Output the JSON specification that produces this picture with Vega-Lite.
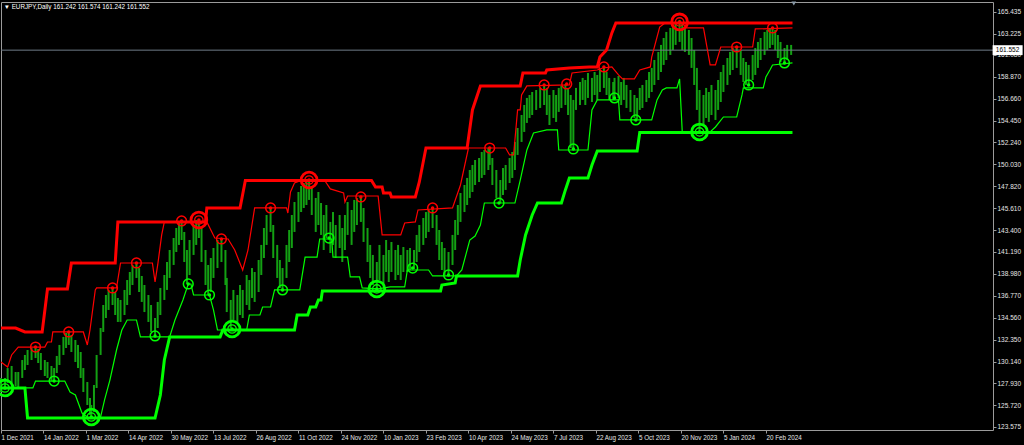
{
"$schema": "https://vega.github.io/schema/vega-lite/v6.json",
"width": 992, "height": 428,
"autosize": {"type": "none"},
"padding": {"left": 1, "top": 2, "right": 31, "bottom": 15},
"background": "#000000",
"config": {"view": {"stroke": "#9b9b9b", "strokeWidth": 1}, "font": "Liberation Sans",
  "axis": {"labelOverlap": false, "labelBound": false, "labelFlush": false, "labelFont": "Liberation Sans", "labelColor": "#e6e6e6", "tickColor": "#9b9b9b", "tickSize": 3, "labelPadding": 1, "domain": false, "grid": false, "title": null, "tickCount": 40}},
"resolve": {"scale": {"color": "independent", "strokeWidth": "independent"}},
"datasets": {
"price": [
{"b":0,"lo":127.06,"hi":128.48},{"b":3,"lo":127.35,"hi":128.48},{"b":5,"lo":127.97,"hi":129.48},{"b":8,"lo":127.97,"hi":129.69},{"b":11,"lo":127.67,"hi":129.08},{"b":13,"lo":127.47,"hi":129.08},{"b":16,"lo":128.48,"hi":130.29},{"b":18,"lo":129.28,"hi":130.80},{"b":20,"lo":129.79,"hi":131.30},{"b":23,"lo":130.29,"hi":131.50},
{"b":26,"lo":130.49,"hi":131.60},{"b":28,"lo":129.99,"hi":131.40},{"b":30,"lo":129.28,"hi":131.00},{"b":33,"lo":128.68,"hi":130.29},{"b":35,"lo":128.48,"hi":130.09},{"b":38,"lo":128.17,"hi":129.69},{"b":40,"lo":128.17,"hi":129.48},{"b":42,"lo":128.98,"hi":130.70},{"b":44,"lo":129.79,"hi":131.81},{"b":47,"lo":130.80,"hi":132.62},
{"b":49,"lo":131.50,"hi":133.02},{"b":51,"lo":131.81,"hi":133.12},{"b":53,"lo":131.10,"hi":132.82},{"b":56,"lo":130.09,"hi":132.31},{"b":58,"lo":129.48,"hi":131.81},{"b":60,"lo":128.48,"hi":131.10},{"b":62,"lo":127.06,"hi":129.48},{"b":65,"lo":125.75,"hi":128.07},{"b":67,"lo":124.74,"hi":126.46},{"b":68,"lo":124.44,"hi":125.75},
{"b":70,"lo":125.05,"hi":127.77},{"b":72,"lo":127.47,"hi":130.80},{"b":75,"lo":130.80,"hi":133.52},{"b":77,"lo":133.12,"hi":135.84},{"b":79,"lo":134.53,"hi":136.85},{"b":81,"lo":135.34,"hi":137.36},{"b":84,"lo":135.84,"hi":137.56},{"b":86,"lo":134.83,"hi":137.15},{"b":88,"lo":134.13,"hi":136.55},{"b":90,"lo":134.13,"hi":136.35},
{"b":93,"lo":134.83,"hi":137.36},{"b":95,"lo":135.84,"hi":138.36},{"b":97,"lo":136.85,"hi":139.17},{"b":99,"lo":137.86,"hi":139.88},{"b":102,"lo":138.57,"hi":140.08},{"b":104,"lo":137.15,"hi":139.57},{"b":106,"lo":136.15,"hi":138.77},{"b":108,"lo":135.13,"hi":137.86},{"b":111,"lo":134.13,"hi":136.85},{"b":113,"lo":133.12,"hi":135.84},
{"b":116,"lo":132.62,"hi":134.53},{"b":118,"lo":133.52,"hi":136.15},{"b":120,"lo":134.83,"hi":137.56},{"b":123,"lo":136.35,"hi":138.87},{"b":125,"lo":137.36,"hi":140.18},{"b":127,"lo":138.57,"hi":141.39},{"b":130,"lo":139.88,"hi":142.60},{"b":132,"lo":141.19,"hi":143.61},{"b":134,"lo":141.90,"hi":144.22},{"b":136,"lo":142.40,"hi":144.32},
{"b":138,"lo":140.18,"hi":143.21},{"b":140,"lo":137.96,"hi":141.39},{"b":142,"lo":138.87,"hi":142.40},{"b":145,"lo":140.89,"hi":143.91},{"b":147,"lo":141.90,"hi":144.42},{"b":149,"lo":142.60,"hi":144.52},{"b":151,"lo":140.18,"hi":143.61},{"b":154,"lo":137.86,"hi":141.39},{"b":156,"lo":136.85,"hi":139.88},{"b":158,"lo":137.15,"hi":140.58},
{"b":160,"lo":138.57,"hi":141.59},{"b":163,"lo":139.57,"hi":142.40},{"b":166,"lo":140.18,"hi":142.50},{"b":169,"lo":137.86,"hi":141.39},{"b":170,"lo":135.13,"hi":138.57},{"b":173,"lo":133.52,"hi":136.35},{"b":175,"lo":134.33,"hi":137.36},{"b":178,"lo":134.13,"hi":136.85},{"b":180,"lo":134.83,"hi":137.86},{"b":182,"lo":134.53,"hi":137.36},
{"b":185,"lo":135.84,"hi":138.87},{"b":187,"lo":135.34,"hi":138.36},{"b":189,"lo":136.55,"hi":139.57},{"b":191,"lo":136.15,"hi":139.17},{"b":194,"lo":137.15,"hi":140.38},{"b":196,"lo":138.87,"hi":141.90},{"b":198,"lo":140.58,"hi":143.61},{"b":200,"lo":141.90,"hi":144.92},{"b":203,"lo":143.21,"hi":145.63},{"b":205,"lo":140.58,"hi":143.91},
{"b":208,"lo":138.57,"hi":141.90},{"b":210,"lo":137.56,"hi":140.38},{"b":212,"lo":137.36,"hi":139.57},{"b":215,"lo":138.57,"hi":141.90},{"b":217,"lo":140.18,"hi":143.41},{"b":219,"lo":141.59,"hi":144.92},{"b":221,"lo":143.21,"hi":146.23},{"b":224,"lo":144.22,"hi":147.24},{"b":226,"lo":145.22,"hi":147.85},{"b":228,"lo":145.63,"hi":148.15},
{"b":230,"lo":145.93,"hi":148.35},{"b":232,"lo":146.44,"hi":148.55},{"b":234,"lo":144.92,"hi":147.85},{"b":237,"lo":143.21,"hi":146.64},{"b":239,"lo":143.91,"hi":147.24},{"b":241,"lo":142.91,"hi":146.13},{"b":243,"lo":141.39,"hi":144.92},{"b":245,"lo":142.60,"hi":145.93},{"b":248,"lo":141.09,"hi":144.22},{"b":250,"lo":141.90,"hi":145.22},
{"b":252,"lo":140.58,"hi":143.91},{"b":255,"lo":141.59,"hi":144.92},{"b":257,"lo":140.18,"hi":143.61},{"b":259,"lo":141.39,"hi":144.92},{"b":261,"lo":142.91,"hi":146.23},{"b":264,"lo":141.90,"hi":145.43},{"b":266,"lo":143.21,"hi":146.44},{"b":268,"lo":143.91,"hi":146.64},{"b":271,"lo":144.22,"hi":146.84},{"b":273,"lo":142.20,"hi":145.63},
{"b":276,"lo":140.18,"hi":143.61},{"b":278,"lo":138.57,"hi":141.90},{"b":280,"lo":137.86,"hi":140.89},{"b":283,"lo":137.46,"hi":140.18},{"b":285,"lo":138.36,"hi":141.90},{"b":288,"lo":137.86,"hi":140.89},{"b":290,"lo":139.17,"hi":142.40},{"b":292,"lo":138.16,"hi":141.39},{"b":294,"lo":139.17,"hi":142.20},{"b":297,"lo":138.36,"hi":141.39},
{"b":299,"lo":138.87,"hi":141.90},{"b":301,"lo":138.36,"hi":140.89},{"b":303,"lo":139.17,"hi":141.69},{"b":306,"lo":139.17,"hi":141.39},{"b":308,"lo":139.37,"hi":141.59},{"b":311,"lo":139.47,"hi":141.39},{"b":313,"lo":140.18,"hi":142.91},{"b":315,"lo":141.19,"hi":143.91},{"b":318,"lo":141.90,"hi":144.62},{"b":320,"lo":142.60,"hi":145.22},
{"b":322,"lo":143.21,"hi":145.43},{"b":325,"lo":143.61,"hi":145.73},{"b":328,"lo":141.90,"hi":144.92},{"b":330,"lo":140.38,"hi":143.41},{"b":332,"lo":139.37,"hi":142.20},{"b":334,"lo":138.87,"hi":141.59},{"b":337,"lo":138.77,"hi":141.19},{"b":340,"lo":139.88,"hi":142.91},{"b":342,"lo":141.39,"hi":144.42},{"b":344,"lo":142.91,"hi":145.93},
{"b":346,"lo":144.22,"hi":147.14},{"b":349,"lo":145.22,"hi":147.95},{"b":351,"lo":145.93,"hi":148.66},{"b":353,"lo":146.64,"hi":149.46},{"b":355,"lo":147.24,"hi":149.97},{"b":357,"lo":147.95,"hi":150.47},{"b":360,"lo":148.25,"hi":150.67},{"b":362,"lo":148.66,"hi":151.28},{"b":364,"lo":148.96,"hi":151.48},{"b":367,"lo":149.46,"hi":151.68},
{"b":368,"lo":149.97,"hi":151.78},{"b":370,"lo":147.95,"hi":150.67},{"b":373,"lo":146.64,"hi":149.46},{"b":376,"lo":146.13,"hi":148.45},{"b":378,"lo":146.94,"hi":149.66},{"b":380,"lo":147.45,"hi":149.97},{"b":383,"lo":148.15,"hi":150.67},{"b":385,"lo":148.66,"hi":151.28},{"b":387,"lo":149.46,"hi":152.29},{"b":389,"lo":150.98,"hi":153.70},
{"b":392,"lo":152.29,"hi":155.01},{"b":394,"lo":153.30,"hi":156.02},{"b":396,"lo":154.21,"hi":156.73},{"b":398,"lo":154.71,"hi":157.03},{"b":400,"lo":155.01,"hi":157.33},{"b":403,"lo":155.52,"hi":157.53},{"b":406,"lo":155.72,"hi":157.74},{"b":409,"lo":156.02,"hi":158.14},{"b":411,"lo":155.01,"hi":157.74},{"b":413,"lo":154.00,"hi":157.03},
{"b":416,"lo":154.71,"hi":157.53},{"b":418,"lo":154.31,"hi":157.03},{"b":420,"lo":155.32,"hi":157.74},{"b":422,"lo":155.72,"hi":157.94},{"b":425,"lo":156.02,"hi":158.14},{"b":427,"lo":155.01,"hi":157.74},{"b":429,"lo":151.68,"hi":157.03},{"b":431,"lo":151.58,"hi":156.53},{"b":433,"lo":155.52,"hi":157.74},{"b":436,"lo":156.02,"hi":158.34},
{"b":438,"lo":156.53,"hi":158.75},{"b":440,"lo":156.02,"hi":158.54},{"b":442,"lo":156.73,"hi":159.25},{"b":445,"lo":156.32,"hi":158.75},{"b":447,"lo":157.03,"hi":159.35},{"b":449,"lo":156.53,"hi":159.05},{"b":451,"lo":157.33,"hi":159.55},{"b":454,"lo":157.74,"hi":159.96},{"b":456,"lo":157.03,"hi":159.35},{"b":458,"lo":156.53,"hi":158.75},
{"b":461,"lo":156.53,"hi":158.34},{"b":462,"lo":156.63,"hi":158.75},{"b":465,"lo":156.73,"hi":158.95},{"b":467,"lo":156.02,"hi":158.34},{"b":469,"lo":156.53,"hi":158.75},{"b":471,"lo":155.72,"hi":158.04},{"b":474,"lo":155.32,"hi":157.53},{"b":477,"lo":154.71,"hi":157.03},{"b":479,"lo":154.61,"hi":156.73},{"b":481,"lo":155.52,"hi":157.74},
{"b":483,"lo":155.72,"hi":158.04},{"b":486,"lo":156.32,"hi":158.54},{"b":488,"lo":156.73,"hi":159.35},{"b":490,"lo":157.33,"hi":159.76},{"b":492,"lo":158.04,"hi":160.56},{"b":495,"lo":158.54,"hi":161.37},{"b":497,"lo":159.35,"hi":162.08},{"b":499,"lo":160.06,"hi":162.78},{"b":501,"lo":160.56,"hi":163.39},{"b":504,"lo":161.07,"hi":163.79},
{"b":506,"lo":161.57,"hi":164.09},{"b":508,"lo":162.08,"hi":164.40},{"b":511,"lo":162.38,"hi":164.60},{"b":513,"lo":161.57,"hi":164.19},{"b":515,"lo":161.37,"hi":163.79},{"b":518,"lo":161.07,"hi":163.59},{"b":520,"lo":159.76,"hi":162.78},{"b":522,"lo":158.04,"hi":161.57},{"b":524,"lo":155.52,"hi":159.76},{"b":526,"lo":153.30,"hi":157.53},
{"b":529,"lo":154.00,"hi":157.03},{"b":531,"lo":154.71,"hi":157.74},{"b":533,"lo":154.31,"hi":157.33},{"b":535,"lo":155.01,"hi":158.04},{"b":538,"lo":154.51,"hi":157.53},{"b":540,"lo":155.52,"hi":158.54},{"b":542,"lo":156.32,"hi":159.35},{"b":544,"lo":157.33,"hi":160.06},{"b":547,"lo":158.04,"hi":160.76},{"b":549,"lo":159.05,"hi":161.37},
{"b":551,"lo":159.55,"hi":161.77},{"b":554,"lo":159.76,"hi":161.97},{"b":557,"lo":159.05,"hi":161.57},{"b":559,"lo":158.34,"hi":160.76},{"b":561,"lo":158.04,"hi":160.36},{"b":563,"lo":157.94,"hi":160.06},{"b":566,"lo":158.54,"hi":161.07},{"b":568,"lo":159.05,"hi":161.77},{"b":570,"lo":159.76,"hi":162.38},{"b":572,"lo":160.56,"hi":162.78},
{"b":575,"lo":161.07,"hi":163.39},{"b":577,"lo":161.57,"hi":163.59},{"b":579,"lo":161.77,"hi":163.79},{"b":581,"lo":162.08,"hi":163.89},{"b":583,"lo":161.57,"hi":163.59},{"b":585,"lo":160.76,"hi":163.08},{"b":587,"lo":160.36,"hi":162.38},{"b":590,"lo":160.26,"hi":161.77},{"b":592,"lo":160.56,"hi":162.08},{"b":595,"lo":161.07,"hi":162.08}
],
"lines": [
{"s":"R1","b":0,"p":133.52},{"s":"R1","b":11,"p":133.52},{"s":"R1","b":18,"p":133.12},{"s":"R1","b":31,"p":133.12},{"s":"R1","b":35,"p":137.46},{"s":"R1","b":50,"p":137.46},{"s":"R1","b":53,"p":140.08},{"s":"R1","b":86,"p":140.08},{"s":"R1","b":88,"p":144.22},{"s":"R1","b":154,"p":144.22},{"s":"R1","b":155,"p":145.63},{"s":"R1","b":180,"p":145.63},{"s":"R1","b":184,"p":148.40},{"s":"R1","b":279,"p":148.40},{"s":"R1","b":282,"p":147.75},{"s":"R1","b":287,"p":147.75},{"s":"R1","b":288,"p":147.14},{"s":"R1","b":293,"p":147.14},{"s":"R1","b":294,"p":146.74},{"s":"R1","b":312,"p":146.74},{"s":"R1","b":315,"p":148.25},{"s":"R1","b":320,"p":151.68},{"s":"R1","b":351,"p":151.68},{"s":"R1","b":355,"p":155.52},{"s":"R1","b":361,"p":157.94},{"s":"R1","b":391,"p":157.94},{"s":"R1","b":393,"p":159.25},{"s":"R1","b":410,"p":159.25},{"s":"R1","b":411,"p":159.55},{"s":"R1","b":428,"p":159.75},{"s":"R1","b":443,"p":159.86},{"s":"R1","b":449,"p":159.86},{"s":"R1","b":451,"p":160.86},{"s":"R1","b":456,"p":161.57},{"s":"R1","b":460,"p":163.29},{"s":"R1","b":463,"p":164.30},{"s":"R1","b":596,"p":164.30},
{"s":"R2","b":0,"p":130.09},{"s":"R2","b":5,"p":129.59},{"s":"R2","b":8,"p":130.80},{"s":"R2","b":13,"p":131.60},{"s":"R2","b":33,"p":131.60},{"s":"R2","b":35,"p":132.11},{"s":"R2","b":38,"p":132.11},{"s":"R2","b":39,"p":133.12},{"s":"R2","b":62,"p":133.12},{"s":"R2","b":65,"p":131.81},{"s":"R2","b":67,"p":133.32},{"s":"R2","b":71,"p":137.36},{"s":"R2","b":72,"p":137.56},{"s":"R2","b":87,"p":137.56},{"s":"R2","b":90,"p":140.08},{"s":"R2","b":114,"p":140.08},{"s":"R2","b":116,"p":138.16},{"s":"R2","b":118,"p":139.88},{"s":"R2","b":121,"p":142.91},{"s":"R2","b":123,"p":144.22},{"s":"R2","b":155,"p":144.22},{"s":"R2","b":161,"p":142.60},{"s":"R2","b":171,"p":142.50},{"s":"R2","b":176,"p":141.39},{"s":"R2","b":182,"p":139.37},{"s":"R2","b":186,"p":141.39},{"s":"R2","b":191,"p":145.63},{"s":"R2","b":215,"p":145.63},{"s":"R2","b":216,"p":145.12},{"s":"R2","b":218,"p":147.24},{"s":"R2","b":221,"p":148.15},{"s":"R2","b":225,"p":148.35},{"s":"R2","b":244,"p":148.35},{"s":"R2","b":248,"p":147.55},{"s":"R2","b":258,"p":147.14},{"s":"R2","b":259,"p":146.23},{"s":"R2","b":261,"p":146.84},{"s":"R2","b":284,"p":146.84},{"s":"R2","b":287,"p":142.91},{"s":"R2","b":301,"p":142.91},{"s":"R2","b":304,"p":144.12},{"s":"R2","b":312,"p":144.22},{"s":"R2","b":314,"p":145.43},{"s":"R2","b":340,"p":145.63},{"s":"R2","b":346,"p":147.95},{"s":"R2","b":352,"p":151.68},{"s":"R2","b":380,"p":151.68},{"s":"R2","b":383,"p":150.98},{"s":"R2","b":386,"p":150.98},{"s":"R2","b":389,"p":155.52},{"s":"R2","b":391,"p":155.52},{"s":"R2","b":392,"p":157.03},{"s":"R2","b":396,"p":157.94},{"s":"R2","b":428,"p":158.04},{"s":"R2","b":430,"p":159.25},{"s":"R2","b":449,"p":159.55},{"s":"R2","b":453,"p":159.75},{"s":"R2","b":460,"p":159.86},{"s":"R2","b":465,"p":159.05},{"s":"R2","b":468,"p":158.65},{"s":"R2","b":477,"p":158.65},{"s":"R2","b":481,"p":159.55},{"s":"R2","b":489,"p":159.86},{"s":"R2","b":490,"p":160.86},{"s":"R2","b":496,"p":163.89},{"s":"R2","b":500,"p":164.30},{"s":"R2","b":513,"p":164.30},{"s":"R2","b":516,"p":163.79},{"s":"R2","b":529,"p":163.79},{"s":"R2","b":534,"p":160.06},{"s":"R2","b":538,"p":160.06},{"s":"R2","b":542,"p":161.87},{"s":"R2","b":566,"p":161.87},{"s":"R2","b":568,"p":163.69},{"s":"R2","b":596,"p":163.79},
{"s":"G1","b":0,"p":127.47},{"s":"G1","b":18,"p":127.47},{"s":"G1","b":20,"p":124.44},{"s":"G1","b":116,"p":124.44},{"s":"G1","b":120,"p":126.76},{"s":"G1","b":123,"p":130.29},{"s":"G1","b":127,"p":132.62},{"s":"G1","b":165,"p":132.62},{"s":"G1","b":167,"p":133.32},{"s":"G1","b":221,"p":133.32},{"s":"G1","b":223,"p":134.83},{"s":"G1","b":231,"p":134.83},{"s":"G1","b":233,"p":135.64},{"s":"G1","b":237,"p":135.64},{"s":"G1","b":239,"p":136.35},{"s":"G1","b":241,"p":136.35},{"s":"G1","b":242,"p":137.25},{"s":"G1","b":331,"p":137.25},{"s":"G1","b":332,"p":137.86},{"s":"G1","b":342,"p":138.06},{"s":"G1","b":343,"p":138.77},{"s":"G1","b":389,"p":138.77},{"s":"G1","b":391,"p":140.38},{"s":"G1","b":395,"p":142.91},{"s":"G1","b":400,"p":144.92},{"s":"G1","b":404,"p":146.13},{"s":"G1","b":422,"p":146.13},{"s":"G1","b":425,"p":147.45},{"s":"G1","b":428,"p":148.66},{"s":"G1","b":442,"p":148.66},{"s":"G1","b":445,"p":149.97},{"s":"G1","b":449,"p":151.38},{"s":"G1","b":479,"p":151.38},{"s":"G1","b":481,"p":153.25},{"s":"G1","b":596,"p":153.25},
{"s":"G2","b":0,"p":127.47},{"s":"G2","b":24,"p":127.47},{"s":"G2","b":26,"p":128.17},{"s":"G2","b":48,"p":128.17},{"s":"G2","b":52,"p":127.06},{"s":"G2","b":56,"p":126.76},{"s":"G2","b":61,"p":124.94},{"s":"G2","b":66,"p":124.44},{"s":"G2","b":75,"p":124.54},{"s":"G2","b":78,"p":126.26},{"s":"G2","b":82,"p":128.27},{"s":"G2","b":87,"p":131.30},{"s":"G2","b":91,"p":133.32},{"s":"G2","b":95,"p":134.33},{"s":"G2","b":102,"p":134.33},{"s":"G2","b":105,"p":132.62},{"s":"G2","b":127,"p":132.62},{"s":"G2","b":131,"p":134.33},{"s":"G2","b":137,"p":136.35},{"s":"G2","b":141,"p":137.96},{"s":"G2","b":143,"p":137.96},{"s":"G2","b":145,"p":136.85},{"s":"G2","b":157,"p":136.85},{"s":"G2","b":160,"p":135.34},{"s":"G2","b":163,"p":133.32},{"s":"G2","b":185,"p":133.32},{"s":"G2","b":187,"p":134.83},{"s":"G2","b":195,"p":134.83},{"s":"G2","b":197,"p":135.64},{"s":"G2","b":203,"p":135.64},{"s":"G2","b":206,"p":137.36},{"s":"G2","b":225,"p":137.36},{"s":"G2","b":229,"p":140.68},{"s":"G2","b":238,"p":140.68},{"s":"G2","b":240,"p":142.50},{"s":"G2","b":249,"p":142.50},{"s":"G2","b":250,"p":140.68},{"s":"G2","b":261,"p":140.68},{"s":"G2","b":263,"p":138.67},{"s":"G2","b":270,"p":138.67},{"s":"G2","b":272,"p":137.56},{"s":"G2","b":284,"p":137.46},{"s":"G2","b":293,"p":137.66},{"s":"G2","b":304,"p":137.66},{"s":"G2","b":306,"p":139.37},{"s":"G2","b":322,"p":139.37},{"s":"G2","b":325,"p":138.77},{"s":"G2","b":343,"p":138.77},{"s":"G2","b":347,"p":139.37},{"s":"G2","b":353,"p":142.40},{"s":"G2","b":357,"p":142.80},{"s":"G2","b":361,"p":143.91},{"s":"G2","b":364,"p":146.13},{"s":"G2","b":387,"p":146.13},{"s":"G2","b":391,"p":148.45},{"s":"G2","b":396,"p":151.48},{"s":"G2","b":401,"p":153.20},{"s":"G2","b":411,"p":153.50},{"s":"G2","b":419,"p":153.50},{"s":"G2","b":420,"p":151.48},{"s":"G2","b":442,"p":151.48},{"s":"G2","b":445,"p":155.52},{"s":"G2","b":449,"p":156.53},{"s":"G2","b":465,"p":156.53},{"s":"G2","b":466,"p":154.51},{"s":"G2","b":490,"p":154.51},{"s":"G2","b":492,"p":155.52},{"s":"G2","b":494,"p":156.53},{"s":"G2","b":498,"p":157.53},{"s":"G2","b":501,"p":157.74},{"s":"G2","b":509,"p":157.74},{"s":"G2","b":511,"p":158.65},{"s":"G2","b":513,"p":153.30},{"s":"G2","b":534,"p":153.30},{"s":"G2","b":538,"p":153.80},{"s":"G2","b":544,"p":154.81},{"s":"G2","b":554,"p":154.81},{"s":"G2","b":558,"p":157.03},{"s":"G2","b":559,"p":157.74},{"s":"G2","b":574,"p":157.74},{"s":"G2","b":576,"p":158.85},{"s":"G2","b":579,"p":159.55},{"s":"G2","b":581,"p":160.06},{"s":"G2","b":596,"p":160.26}
],
"marks": [
{"t":"H","d":1,"b":26,"p":131.60},{"t":"H","d":1,"b":51,"p":133.12},{"t":"H","d":1,"b":84,"p":137.56},{"t":"H","d":1,"b":102,"p":140.08},{"t":"H","d":1,"b":136,"p":144.32},{"t":"H","d":1,"b":166,"p":142.50},{"t":"H","d":1,"b":203,"p":145.63},{"t":"H","d":1,"b":271,"p":146.74},{"t":"H","d":1,"b":325,"p":145.63},{"t":"H","d":1,"b":368,"p":151.68},{"t":"H","d":1,"b":409,"p":158.04},{"t":"H","d":1,"b":426,"p":158.14},{"t":"H","d":1,"b":454,"p":159.86},{"t":"H","d":1,"b":554,"p":161.87},{"t":"H","d":1,"b":581,"p":163.79},
{"t":"H","d":2,"b":149,"p":144.42},{"t":"H","d":2,"b":232,"p":148.45},{"t":"H","d":2,"b":511,"p":164.40},
{"t":"L","d":1,"b":40,"p":128.17},{"t":"L","d":1,"b":116,"p":132.72},{"t":"L","d":1,"b":141,"p":137.96},{"t":"L","d":1,"b":157,"p":136.85},{"t":"L","d":1,"b":212,"p":137.36},{"t":"L","d":1,"b":247,"p":142.60},{"t":"L","d":1,"b":310,"p":139.57},{"t":"L","d":1,"b":337,"p":138.87},{"t":"L","d":1,"b":375,"p":146.13},{"t":"L","d":1,"b":431,"p":151.58},{"t":"L","d":1,"b":462,"p":156.73},{"t":"L","d":1,"b":478,"p":154.51},{"t":"L","d":1,"b":563,"p":158.04},{"t":"L","d":1,"b":590,"p":160.26},
{"t":"L","d":2,"b":3,"p":127.47},{"t":"L","d":2,"b":68,"p":124.54},{"t":"L","d":2,"b":174,"p":133.42},{"t":"L","d":2,"b":283,"p":137.46},{"t":"L","d":2,"b":526,"p":153.30}
]
},
"layer": [
{"data": {"name": "price"}, "mark": {"type": "rule", "color": "#13a013", "strokeWidth": 2},
 "encoding": {
  "x": {"field": "b", "type": "quantitative", "title": null, "scale": {"domain": [0, 747], "nice": false, "zero": false},
        "axis": {"values": [0,32,64,96,128,160,192,224,256,288,320,352,384,416,448,480,512,544,576], "labelExpr": "datum.value == 0 ? '1 Dec 2021' : datum.value == 32 ? '14 Jan 2022' : datum.value == 64 ? '1 Mar 2022' : datum.value == 96 ? '14 Apr 2022' : datum.value == 128 ? '30 May 2022' : datum.value == 160 ? '13 Jul 2022' : datum.value == 192 ? '26 Aug 2022' : datum.value == 224 ? '11 Oct 2022' : datum.value == 256 ? '24 Nov 2022' : datum.value == 288 ? '10 Jan 2023' : datum.value == 320 ? '23 Feb 2023' : datum.value == 352 ? '10 Apr 2023' : datum.value == 384 ? '24 May 2023' : datum.value == 416 ? '7 Jul 2023' : datum.value == 448 ? '22 Aug 2023' : datum.value == 480 ? '5 Oct 2023' : datum.value == 512 ? '20 Nov 2023' : datum.value == 544 ? '5 Jan 2024' : '20 Feb 2024'", "labelAlign": "left", "labelFontSize": 6.3, "labelOverlap": false, "tickCount": 40}},
  "y": {"field": "lo", "type": "quantitative", "title": null, "scale": {"domain": [123.23, 166.41], "nice": false, "zero": false},
        "axis": {"orient": "right", "values": [165.435,163.225,161.08,158.87,156.66,154.45,152.24,150.03,147.82,145.61,143.4,141.19,138.98,136.77,134.56,132.35,130.14,127.93,125.72,123.575], "format": ".3f", "labelFontSize": 6.5, "labelOverlap": false, "tickCount": 40}},
  "y2": {"field": "hi"}
 }},
{"data": {"values": [{"p": 161.552}]}, "mark": {"type": "rule", "color": "#6f7c88", "strokeWidth": 1},
 "encoding": {"y": {"field": "p", "type": "quantitative", "title": null, "scale": {"domain": [123.23, 166.41], "nice": false, "zero": false}}}},
{"data": {"name": "lines"}, "mark": {"type": "line", "interpolate": "linear"},
 "encoding": {
  "x": {"field": "b", "type": "quantitative", "title": null, "scale": {"domain": [0, 747], "nice": false, "zero": false}},
  "y": {"field": "p", "type": "quantitative", "title": null, "scale": {"domain": [123.23, 166.41], "nice": false, "zero": false}},
  "detail": {"field": "s"},
  "color": {"field": "s", "type": "nominal", "scale": {"domain": ["R1","R2","G1","G2"], "range": ["#ff0000","#ff0000","#00ff00","#00ff00"]}, "legend": null},
  "strokeWidth": {"field": "s", "type": "nominal", "scale": {"type": "ordinal", "domain": ["R1","R2","G1","G2"], "range": [3, 1.2, 3, 1.2]}, "legend": null}
 }},
{"data": {"name": "marks"}, "transform": [{"filter": "datum.d == 1"}], "mark": {"type": "point", "shape": "circle", "filled": false, "strokeWidth": 1.5, "size": 95, "opacity": 1},
 "encoding": {
  "x": {"field": "b", "type": "quantitative", "title": null, "scale": {"domain": [0, 747], "nice": false, "zero": false}},
  "y": {"field": "p", "type": "quantitative", "title": null, "scale": {"domain": [123.23, 166.41], "nice": false, "zero": false}},
  "color": {"field": "t", "type": "nominal", "scale": {"domain": ["H","L"], "range": ["#ff0000","#00ff00"]}, "legend": null}
 }},
{"data": {"name": "marks"}, "transform": [{"filter": "datum.d == 2"}], "mark": {"type": "point", "shape": "circle", "filled": false, "strokeWidth": 2.8, "size": 250, "opacity": 1},
 "encoding": {
  "x": {"field": "b", "type": "quantitative", "title": null, "scale": {"domain": [0, 747], "nice": false, "zero": false}},
  "y": {"field": "p", "type": "quantitative", "title": null, "scale": {"domain": [123.23, 166.41], "nice": false, "zero": false}},
  "color": {"field": "t", "type": "nominal", "scale": {"domain": ["H","L"], "range": ["#ff0000","#00ff00"]}, "legend": null}
 }},
{"data": {"name": "marks"}, "transform": [{"filter": "datum.d == 2"}], "mark": {"type": "point", "shape": "circle", "filled": false, "strokeWidth": 1.3, "size": 70, "opacity": 1},
 "encoding": {
  "x": {"field": "b", "type": "quantitative", "title": null, "scale": {"domain": [0, 747], "nice": false, "zero": false}},
  "y": {"field": "p", "type": "quantitative", "title": null, "scale": {"domain": [123.23, 166.41], "nice": false, "zero": false}},
  "color": {"field": "t", "type": "nominal", "scale": {"domain": ["H","L"], "range": ["#ff0000","#00ff00"]}, "legend": null}
 }},
{"data": {"name": "marks"}, "mark": {"type": "point", "shape": "circle", "filled": true, "size": 12, "opacity": 1},
 "encoding": {
  "x": {"field": "b", "type": "quantitative", "title": null, "scale": {"domain": [0, 747], "nice": false, "zero": false}},
  "y": {"field": "p", "type": "quantitative", "title": null, "scale": {"domain": [123.23, 166.41], "nice": false, "zero": false}},
  "color": {"field": "t", "type": "nominal", "scale": {"domain": ["H","L"], "range": ["#ff0000","#00ff00"]}, "legend": null}
 }},
{"data": {"values": [{"b": 758, "p": 161.552, "label": "161.552"}]}, "mark": {"type": "point", "shape": "M-1,-0.33L1,-0.33L1,0.33L-1,0.33Z", "filled": true, "color": "#ffffff", "size": 900, "opacity": 1},
 "encoding": {
  "x": {"field": "b", "type": "quantitative", "title": null, "scale": {"domain": [0, 747], "nice": false, "zero": false}},
  "y": {"field": "p", "type": "quantitative", "title": null, "scale": {"domain": [123.23, 166.41], "nice": false, "zero": false}}
 }},
{"data": {"values": [{"b": 758, "p": 161.552, "label": "161.552"}]}, "mark": {"type": "text", "color": "#000000", "font": "Liberation Sans", "fontSize": 6.5, "align": "center", "baseline": "middle"},
 "encoding": {
  "x": {"field": "b", "type": "quantitative", "title": null, "scale": {"domain": [0, 747], "nice": false, "zero": false}},
  "y": {"field": "p", "type": "quantitative", "title": null, "scale": {"domain": [123.23, 166.41], "nice": false, "zero": false}},
  "text": {"field": "label"}
 }},
{"data": {"values": [{"b": 2, "p": 165.91, "label": "▼ EURJPY,Daily  161.242 161.574 161.242 161.552"}]}, "mark": {"type": "text", "color": "#ffffff", "font": "Liberation Sans", "fontSize": 6.3, "align": "left", "baseline": "middle"},
 "encoding": {
  "x": {"field": "b", "type": "quantitative", "title": null, "scale": {"domain": [0, 747], "nice": false, "zero": false}},
  "y": {"field": "p", "type": "quantitative", "title": null, "scale": {"domain": [123.23, 166.41], "nice": false, "zero": false}},
  "text": {"field": "label"}
 }},
{"data": {"values": [{"b": 597, "p": 166.25}]}, "mark": {"type": "point", "shape": "triangle-down", "filled": true, "color": "#8a9aa8", "size": 22, "opacity": 1},
 "encoding": {
  "x": {"field": "b", "type": "quantitative", "title": null, "scale": {"domain": [0, 747], "nice": false, "zero": false}},
  "y": {"field": "p", "type": "quantitative", "title": null, "scale": {"domain": [123.23, 166.41], "nice": false, "zero": false}}
 }}
]
}
